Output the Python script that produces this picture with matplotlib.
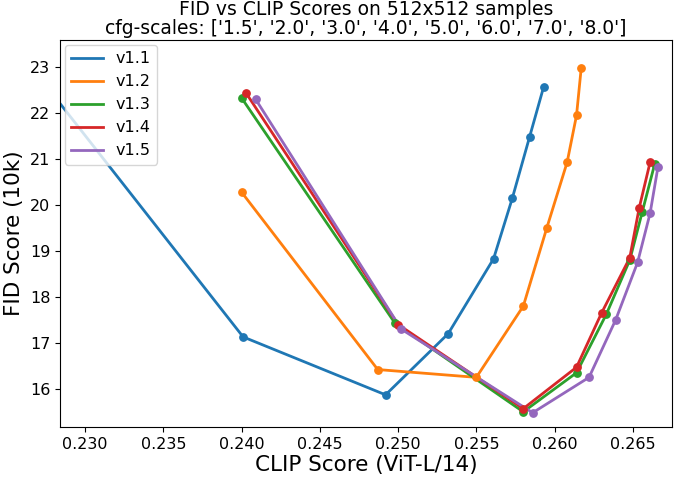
import matplotlib
matplotlib.use("Agg")
import matplotlib.pyplot as plt

labels = ["v1.1", "v1.2", "v1.3", "v1.4", "v1.5"]
clip = [
    [0.2275, 0.2401, 0.2492, 0.2532, 0.2561, 0.2573, 0.2584, 0.2593],
    [0.2400, 0.2487, 0.2550, 0.2580, 0.2595, 0.2608, 0.2614, 0.2617],
    [0.2400, 0.2498, 0.2580, 0.2614, 0.2633, 0.2648, 0.2656, 0.2664],
    [0.2403, 0.2500, 0.2580, 0.2614, 0.2630, 0.2648, 0.2654, 0.2661],
    [0.2409, 0.2502, 0.2586, 0.2622, 0.2639, 0.2653, 0.2661, 0.2666],
]
fid = [
    [22.6, 17.13, 15.87, 17.20, 18.83, 20.15, 21.48, 22.57],
    [20.28, 16.42, 16.25, 17.80, 19.50, 20.93, 21.95, 22.98],
    [22.33, 17.43, 15.50, 16.35, 17.62, 18.80, 19.85, 20.90],
    [22.43, 17.40, 15.57, 16.47, 17.65, 18.85, 19.93, 20.93],
    [22.30, 17.30, 15.48, 16.25, 17.50, 18.75, 19.82, 20.82],
]
colors = ["#1f77b4", "#ff7f0e", "#2ca02c", "#d62728", "#9467bd"]

fig = plt.figure(figsize=(6.79, 4.83), dpi=100)
ax = fig.add_axes([60/679, 1-427/483, 612/679, 387/483])
for l, x, y, c in zip(labels, clip, fid, colors):
    ax.plot(x, y, color=c, lw=2, label=l)
    ax.scatter(x, y, color=c, s=28, zorder=3)
ax.set_xlim(0.2284, 0.2675)
ax.set_ylim(15.17, 23.59)
ax.tick_params(labelsize=11.5)
ax.set_xlabel("CLIP Score (ViT-L/14)", fontsize=15.5, labelpad=2)
ax.set_ylabel("FID Score (10k)", fontsize=15.5, labelpad=4)
ax.set_title("FID vs CLIP Scores on 512x512 samples\ncfg-scales: ['1.5', '2.0', '3.0', '4.0', '5.0', '6.0', '7.0', '8.0']",
             fontsize=13.5, linespacing=1.0, pad=4)
ax.legend(loc="upper left", fontsize=11.5, borderaxespad=0.3)
fig.savefig("out.png", dpi=100)
